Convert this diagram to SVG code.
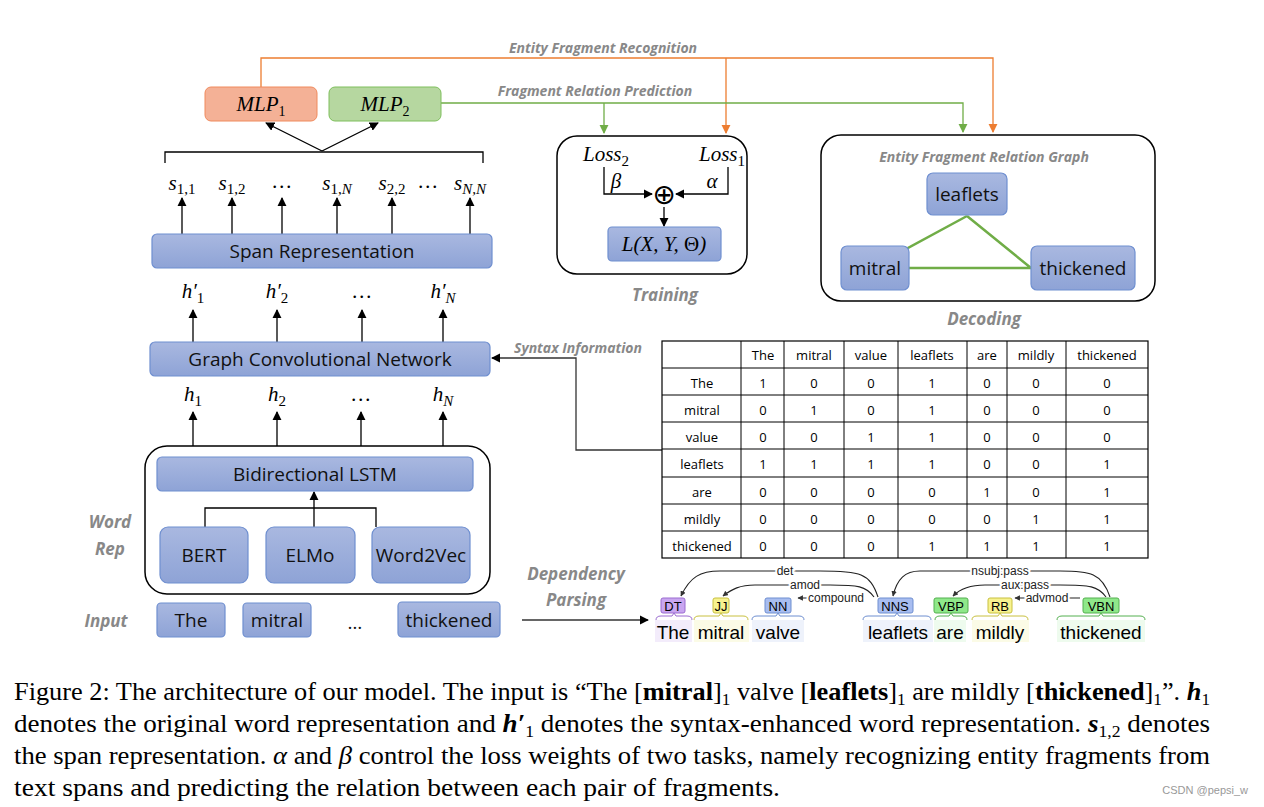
<svg xmlns="http://www.w3.org/2000/svg" width="1264" height="807" viewBox="0 0 1264 807">
<defs>
<marker id="ak" viewBox="0 0 10 10" refX="9" refY="5" markerWidth="7" markerHeight="7" orient="auto"><path d="M0,0L10,5L0,10z" fill="#000"/></marker>
<marker id="ao" viewBox="0 0 10 10" refX="9" refY="5" markerWidth="7" markerHeight="7" orient="auto"><path d="M0,0L10,5L0,10z" fill="#ed7d31"/></marker>
<marker id="ag" viewBox="0 0 10 10" refX="9" refY="5" markerWidth="7" markerHeight="7" orient="auto"><path d="M0,0L10,5L0,10z" fill="#70ad47"/></marker>
<marker id="as" viewBox="0 0 10 10" refX="9" refY="5" markerWidth="5" markerHeight="5" orient="auto"><path d="M0,0L10,5L0,10z" fill="#333"/></marker>
<linearGradient id="bl" x1="0" y1="0" x2="0" y2="1"><stop offset="0" stop-color="#a9b8e0"/><stop offset="1" stop-color="#8ea3d6"/></linearGradient>
</defs>
<style>
.b{fill:url(#bl);stroke:#6f8fd0;stroke-width:1.2}
.t{font-family:"Open Sans","Liberation Sans",sans-serif;font-size:19px;fill:#111;text-anchor:middle}
.m{font-family:"Liberation Serif",serif;font-style:italic;font-size:21px;fill:#000;text-anchor:middle}
.g{font-family:"Open Sans","Liberation Sans",sans-serif;font-style:italic;font-weight:bold;font-size:17px;fill:#888;text-anchor:middle}
.gs{font-family:"Open Sans","Liberation Sans",sans-serif;font-style:italic;font-weight:bold;font-size:14px;fill:#888;text-anchor:middle}
.k{stroke:#000;stroke-width:1.3;fill:none}
.tb{font-family:"Open Sans","Liberation Sans",sans-serif;font-size:13px;fill:#000;text-anchor:middle}
.c{font-family:"Liberation Serif",serif;font-size:26px;fill:#000}
.dl{font-family:"Liberation Sans",sans-serif;font-size:12px;fill:#222;text-anchor:middle}
.w{font-family:"Liberation Sans",sans-serif;font-size:19px;fill:#000;text-anchor:middle}
</style>
<rect width="1264" height="807" fill="#fff"/>
<g id="connectors">
<path d="M261,87V58H993V132" fill="none" stroke="#ed7d31" stroke-width="1.3" marker-end="url(#ao)"/>
<path d="M726,58V133" fill="none" stroke="#ed7d31" stroke-width="1.3" marker-end="url(#ao)"/>
<path d="M441,103H963V132" fill="none" stroke="#70ad47" stroke-width="1.3" marker-end="url(#ag)"/>
<path d="M604,103V133" fill="none" stroke="#70ad47" stroke-width="1.3" marker-end="url(#ag)"/>
<path d="M322,151L266,123" class="k" marker-end="url(#ak)"/>
<path d="M322,151L378,123" class="k" marker-end="url(#ak)"/>
<path d="M165,163V152H483V163" class="k"/>
<g class="k" marker-end="url(#ak)">
<path d="M182,234V198"/><path d="M232,234V198"/><path d="M282,234V198"/><path d="M337,234V198"/><path d="M392,234V198"/><path d="M470,234V198"/>
<path d="M193,342V310"/><path d="M277,342V310"/><path d="M362,342V310"/><path d="M443,342V310"/>
<path d="M193,446V412"/><path d="M277,446V412"/><path d="M361,446V412"/><path d="M443,446V412"/>
<path d="M314,527V492"/>
</g>
<path d="M205,527V508H376V527" class="k"/>
<path d="M662,450H576V358H492" fill="none" stroke="#333" stroke-width="1.3" marker-end="url(#ak)"/>
<path d="M522,620H648" fill="none" stroke="#333" stroke-width="1.3" marker-end="url(#ak)"/>
<path d="M604,167V194H652" class="k" marker-end="url(#ak)"/>
<path d="M728,167V194H676" class="k" marker-end="url(#ak)"/>
<path d="M664,207V226" class="k" marker-end="url(#ak)"/>
<path d="M967,216L871,268H1031L967,216" fill="none" stroke="#70ad47" stroke-width="2.5"/>
</g>
<text x="603" y="53" class="gs">Entity Fragment Recognition</text>
<text x="595" y="96" class="gs">Fragment Relation Prediction</text>
<g id="mlp1"><rect x="205" y="87" width="112" height="34" rx="6" fill="#f4b196" stroke="#f08a5d"/><text x="261" y="111" class="m">MLP<tspan font-size="14" dy="5" font-style="normal">1</tspan></text></g>
<g id="mlp2"><rect x="329" y="87" width="112" height="34" rx="6" fill="#b6d7a0" stroke="#7ebf5c"/><text x="385" y="111" class="m">MLP<tspan font-size="14" dy="5" font-style="normal">2</tspan></text></g>
<g id="spans">
<text x="182" y="190" class="m">s<tspan font-size="15" dy="4" font-style="normal">1,1</tspan></text>
<text x="232" y="190" class="m">s<tspan font-size="15" dy="4" font-style="normal">1,2</tspan></text>
<text x="282" y="188" class="m" font-style="normal" font-size="16">…</text>
<text x="337" y="190" class="m">s<tspan font-size="15" dy="4" font-style="normal">1,</tspan><tspan font-size="15">N</tspan></text>
<text x="392" y="190" class="m">s<tspan font-size="15" dy="4" font-style="normal">2,2</tspan></text>
<text x="428" y="188" class="m" font-style="normal" font-size="16">…</text>
<text x="470" y="190" class="m">s<tspan font-size="15" dy="4">N,N</tspan></text>
</g>
<g id="span"><rect x="152" y="234" width="340" height="34" rx="5" class="b"/><text x="322" y="258" class="t">Span Representation</text></g>
<g id="hprime">
<text x="193" y="298" class="m">h′<tspan font-size="15" dy="5" font-style="normal">1</tspan></text>
<text x="277" y="298" class="m">h′<tspan font-size="15" dy="5" font-style="normal">2</tspan></text>
<text x="362" y="298" class="m" font-style="normal" font-size="16">…</text>
<text x="443" y="298" class="m">h′<tspan font-size="15" dy="5">N</tspan></text>
</g>
<g id="gcn"><rect x="150" y="342" width="340" height="34" rx="5" class="b"/><text x="320" y="366" class="t">Graph Convolutional Network</text></g>
<g id="h">
<text x="193" y="401" class="m">h<tspan font-size="15" dy="5" font-style="normal">1</tspan></text>
<text x="277" y="401" class="m">h<tspan font-size="15" dy="5" font-style="normal">2</tspan></text>
<text x="361" y="401" class="m" font-style="normal" font-size="16">…</text>
<text x="443" y="401" class="m">h<tspan font-size="15" dy="5">N</tspan></text>
</g>
<g id="wordrep">
<rect x="145" y="446" width="345" height="148" rx="22" fill="none" stroke="#000" stroke-width="1.5"/>
<text x="110" y="528" class="g">Word</text><text x="110" y="555" class="g">Rep</text>
</g>
<g id="bilstm"><rect x="157" y="457" width="316" height="34" rx="5" class="b"/><text x="315" y="481" class="t">Bidirectional LSTM</text></g>
<g id="bert"><rect x="160" y="527" width="88" height="56" rx="8" class="b"/><text x="204" y="562" class="t">BERT</text></g>
<g id="elmo"><rect x="266" y="527" width="89" height="56" rx="8" class="b"/><text x="310" y="562" class="t">ELMo</text></g>
<g id="w2v"><rect x="372" y="527" width="98" height="56" rx="8" class="b"/><text x="421" y="562" class="t">Word2Vec</text></g>
<g id="input">
<text x="106" y="627" class="g">Input</text>
<rect x="157" y="603" width="68" height="34" rx="4" class="b"/><text x="191" y="627" class="t">The</text>
<rect x="243" y="603" width="68" height="34" rx="4" class="b"/><text x="277" y="627" class="t">mitral</text>
<text x="355" y="629" class="t" font-size="16">…</text>
<rect x="398" y="602" width="102" height="35" rx="4" class="b"/><text x="449" y="627" class="t">thickened</text>
</g>
<text x="576" y="580" class="g">Dependency</text><text x="576" y="606" class="g">Parsing</text>
<g id="training">
<rect x="557" y="136" width="190" height="138" rx="20" fill="none" stroke="#000" stroke-width="1.5"/>
<text x="606" y="161" class="m">Loss<tspan font-size="15" dy="5" font-style="normal">2</tspan></text>
<text x="722" y="161" class="m">Loss<tspan font-size="15" dy="5" font-style="normal">1</tspan></text>
<text x="616" y="188" class="m">β</text><text x="712" y="188" class="m">α</text>
<text x="664" y="204" font-family="DejaVu Sans,sans-serif" font-size="28" text-anchor="middle">⊕</text>
<rect x="608" y="227" width="113" height="34" rx="4" class="b"/>
<text x="664" y="251" class="m">L(X, Y, <tspan font-style="normal">Θ</tspan>)</text>
<text x="665" y="301" class="g">Training</text>
</g>
<g id="decoding">
<rect x="821" y="135" width="334" height="166" rx="20" fill="none" stroke="#000" stroke-width="1.5"/>
<text x="984" y="162" class="gs">Entity Fragment Relation Graph</text>
<text x="984" y="325" class="g">Decoding</text>
</g>
<g id="leaflets"><rect x="927" y="173" width="80" height="42" rx="6" class="b"/><text x="967" y="201" class="t">leaflets</text></g>
<g id="mitral"><rect x="841" y="246" width="68" height="44" rx="6" class="b"/><text x="875" y="275" class="t">mitral</text></g>
<g id="thickened"><rect x="1031" y="246" width="104" height="44" rx="6" class="b"/><text x="1083" y="275" class="t">thickened</text></g>
<text x="578" y="353" class="gs">Syntax Information</text>
<g id="table">
<rect x="662" y="341" width="486" height="217" fill="none" stroke="#000" stroke-width="1.2"/>
<g stroke="#000" stroke-width="1">
<path d="M741,341V558M784,341V558M844,341V558M898,341V558M967,341V558M1007,341V558M1066,341V558"/>
<path d="M662,368H1148M662,395H1148M662,422H1148M662,449H1148M662,477H1148M662,504H1148M662,531H1148"/>
</g>
<g class="tb">
<text x="763" y="360">The</text><text x="814" y="360">mitral</text><text x="871" y="360">value</text><text x="932" y="360">leaflets</text><text x="987" y="360">are</text><text x="1036" y="360">mildly</text><text x="1107" y="360">thickened</text>
<text x="702" y="388">The</text><text x="702" y="415">mitral</text><text x="702" y="442">value</text><text x="702" y="469">leaflets</text><text x="702" y="497">are</text><text x="702" y="524">mildly</text><text x="702" y="551">thickened</text>
<text x="763" y="388">1</text><text x="814" y="388">0</text><text x="871" y="388">0</text><text x="932" y="388">1</text><text x="987" y="388">0</text><text x="1036" y="388">0</text><text x="1107" y="388">0</text>
<text x="763" y="415">0</text><text x="814" y="415">1</text><text x="871" y="415">0</text><text x="932" y="415">1</text><text x="987" y="415">0</text><text x="1036" y="415">0</text><text x="1107" y="415">0</text>
<text x="763" y="442">0</text><text x="814" y="442">0</text><text x="871" y="442">1</text><text x="932" y="442">1</text><text x="987" y="442">0</text><text x="1036" y="442">0</text><text x="1107" y="442">0</text>
<text x="763" y="469">1</text><text x="814" y="469">1</text><text x="871" y="469">1</text><text x="932" y="469">1</text><text x="987" y="469">0</text><text x="1036" y="469">0</text><text x="1107" y="469">1</text>
<text x="763" y="497">0</text><text x="814" y="497">0</text><text x="871" y="497">0</text><text x="932" y="497">0</text><text x="987" y="497">1</text><text x="1036" y="497">0</text><text x="1107" y="497">1</text>
<text x="763" y="524">0</text><text x="814" y="524">0</text><text x="871" y="524">0</text><text x="932" y="524">0</text><text x="987" y="524">0</text><text x="1036" y="524">1</text><text x="1107" y="524">1</text>
<text x="763" y="551">0</text><text x="814" y="551">0</text><text x="871" y="551">0</text><text x="932" y="551">1</text><text x="987" y="551">1</text><text x="1036" y="551">1</text><text x="1107" y="551">1</text>
</g>
</g>
<g id="dependency">
<g fill="none" stroke="#222" stroke-width="1.1" marker-end="url(#as)">
<path d="M878,597C870,573 860,571 820,571H720C700,571 690,577 681,596"/>
<path d="M874,597C866,586 858,585 830,585H755C740,585 732,589 723,596"/>
<path d="M840,598H798"/>
<path d="M1110,597C1102,573 1090,571 1060,571H920C905,571 897,579 893,596"/>
<path d="M1106,597C1098,586 1090,585 1060,585H985C970,585 960,589 953,596"/>
<path d="M1080,598H1015"/>
</g>
<g class="dl" style="paint-order:stroke" stroke="#fff" stroke-width="4">
<text x="785" y="575">det</text>
<text x="805" y="589">amod</text>
<text x="836" y="602">compound</text>
<text x="1000" y="575">nsubj:pass</text>
<text x="1025" y="589">aux:pass</text>
<text x="1047" y="602">advmod</text>
</g>
<g font-family="Liberation Sans,sans-serif" font-size="13" text-anchor="middle">
<rect x="661" y="598" width="24" height="15" rx="2" fill="#c9a6f0" stroke="#9b6cd0"/><text x="673" y="611">DT</text>
<rect x="713" y="598" width="16" height="15" rx="2" fill="#f7f28f" stroke="#c8c040"/><text x="721" y="611">JJ</text>
<rect x="765" y="598" width="26" height="15" rx="2" fill="#a8bdf0" stroke="#6f8fd0"/><text x="778" y="611">NN</text>
<rect x="878" y="598" width="35" height="15" rx="2" fill="#a8bdf0" stroke="#6f8fd0"/><text x="895" y="611">NNS</text>
<rect x="934" y="598" width="34" height="15" rx="2" fill="#8fe88a" stroke="#55b050"/><text x="951" y="611">VBP</text>
<rect x="988" y="598" width="24" height="15" rx="2" fill="#f7f28f" stroke="#c8c040"/><text x="1000" y="611">RB</text>
<rect x="1083" y="598" width="36" height="15" rx="2" fill="#8fe88a" stroke="#55b050"/><text x="1101" y="611">VBN</text>
</g>
<rect x="655" y="620" width="37" height="22" fill="#f3ecfb"/><rect x="694" y="620" width="55" height="22" fill="#fbfbe6"/><rect x="752" y="620" width="52" height="22" fill="#eef2fb"/>
<rect x="863" y="620" width="70" height="22" fill="#eef2fb"/><rect x="934" y="620" width="32" height="22" fill="#eefbee"/><rect x="972" y="620" width="57" height="22" fill="#fbfbe6"/><rect x="1057" y="620" width="88" height="22" fill="#eefbee"/>
<g fill="none" stroke-width="1">
<path d="M656,620q0,-4 5,-4h11l2,-3l2,3h11q5,0 5,4" stroke="#9b6cd0"/>
<path d="M694,620q0,-4 5,-4h20l2,-3l2,3h20q5,0 5,4" stroke="#c8c040"/>
<path d="M752,620q0,-4 5,-4h19l2,-3l2,3h19q5,0 5,4" stroke="#6f8fd0"/>
<path d="M863,620q0,-4 5,-4h27l2,-3l2,3h27q5,0 5,4" stroke="#6f8fd0"/>
<path d="M935,620q0,-4 5,-4h9l2,-3l2,3h9q5,0 5,4" stroke="#55b050"/>
<path d="M972,620q0,-4 5,-4h21l2,-3l2,3h21q5,0 5,4" stroke="#c8c040"/>
<path d="M1057,620q0,-4 5,-4h37l2,-3l2,3h37q5,0 5,4" stroke="#55b050"/>
</g>
<g class="w">
<text x="673" y="639">The</text><text x="721" y="639">mitral</text><text x="778" y="639">valve</text>
<text x="898" y="639">leaflets</text><text x="950" y="639">are</text><text x="1000" y="639">mildly</text><text x="1101" y="639">thickened</text>
</g>
</g>
<g id="caption" class="c">
<text x="14" y="700" textLength="1196" lengthAdjust="spacingAndGlyphs">Figure 2: The architecture of our model. The input is “The [<tspan font-weight="bold">mitral</tspan>]<tspan font-size="17" dy="5">1</tspan><tspan dy="-5"> valve [</tspan><tspan font-weight="bold">leaflets</tspan>]<tspan font-size="17" dy="5">1</tspan><tspan dy="-5"> are mildly [</tspan><tspan font-weight="bold">thickened</tspan>]<tspan font-size="17" dy="5">1</tspan><tspan dy="-5">”. </tspan><tspan font-weight="bold" font-style="italic">h</tspan><tspan font-size="17" dy="5">1</tspan></text>
<text x="14" y="732" textLength="1196" lengthAdjust="spacingAndGlyphs">denotes the original word representation and <tspan font-weight="bold" font-style="italic">h′</tspan><tspan font-size="17" dy="5">1</tspan><tspan dy="-5"> denotes the syntax-enhanced word representation. </tspan><tspan font-weight="bold" font-style="italic">s</tspan><tspan font-size="17" dy="5">1,2</tspan><tspan dy="-5"> denotes</tspan></text>
<text x="14" y="764" textLength="1196" lengthAdjust="spacingAndGlyphs">the span representation. <tspan font-style="italic">α</tspan> and <tspan font-style="italic">β</tspan> control the loss weights of two tasks, namely recognizing entity fragments from</text>
<text x="14" y="796" textLength="766" lengthAdjust="spacingAndGlyphs">text spans and predicting the relation between each pair of fragments.</text>
</g>
<text x="1248" y="794" font-family="Liberation Sans,sans-serif" font-size="11" fill="#999" text-anchor="end">CSDN @pepsi_w</text>
</svg>
